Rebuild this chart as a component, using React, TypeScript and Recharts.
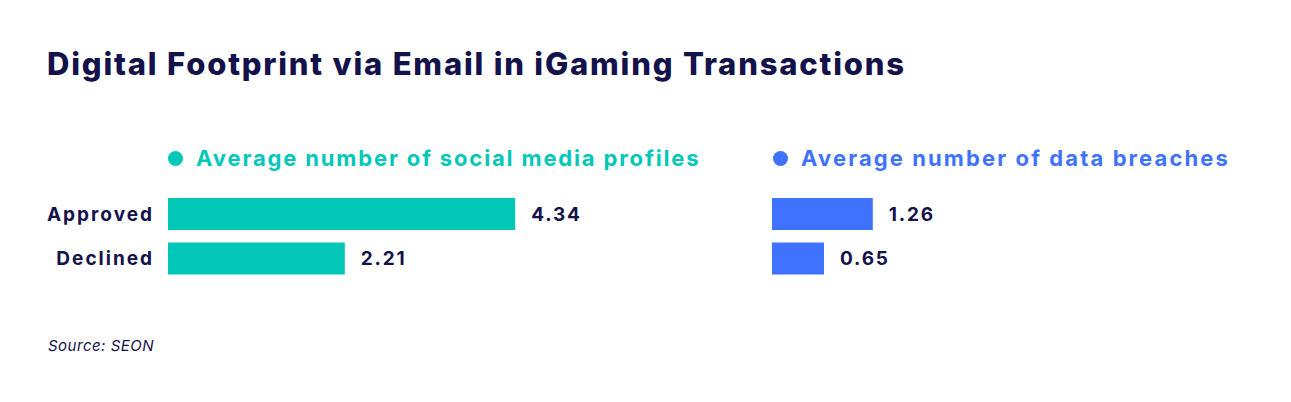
import React from "react";
import { BarChart, Bar, XAxis, YAxis, LabelList } from "recharts";

const categories = ["Approved", "Declined"];
const socialProfiles = [4.34, 2.21];
const dataBreaches = [1.26, 0.65];

const TEAL = "#00C7B8";
const BLUE = "#3F72FF";
const NAVY = "#14124B";
const FONT = "Inter, 'DejaVu Sans', sans-serif";

const socialData = categories.map((c, i) => ({ name: c, value: socialProfiles[i] }));
const breachData = categories.map((c, i) => ({ name: c, value: dataBreaches[i] }));

function LegendItem({ color, label, left, spacing }: { color: string; label: string; left: number; spacing: number }) {
  return (
    <div
      style={{
        position: "absolute",
        left,
        top: 145,
        height: 26,
        display: "flex",
        alignItems: "center",
        fontFamily: FONT,
        whiteSpace: "nowrap",
      }}
    >
      <span
        style={{
          display: "inline-block",
          width: 15,
          height: 15,
          borderRadius: "50%",
          background: color,
          marginRight: 13,
        }}
      />
      <span style={{ color, fontSize: 22, fontWeight: 700, letterSpacing: spacing, lineHeight: "26px" }}>{label}</span>
    </div>
  );
}

const labelStyle = { fill: NAVY, fontSize: 19, fontWeight: 700, fontFamily: FONT, letterSpacing: 1.8 };

export default function App() {
  return (
    <div
      style={{
        position: "absolute",
        left: 0,
        top: 0,
        width: 1291,
        height: 402,
        background: "#fff",
        fontFamily: FONT,
        overflow: "hidden",
      }}
    >
      <div
        style={{
          position: "absolute",
          left: 47,
          top: 44,
          fontSize: 31,
          fontWeight: 800,
          color: NAVY,
          lineHeight: "40px",
          whiteSpace: "nowrap",
          letterSpacing: 1.8,
        }}
      >
        Digital Footprint via Email in iGaming Transactions
      </div>

      <LegendItem color={TEAL} label="Average number of social media profiles" left={168} spacing={1.85} />
      <LegendItem color={BLUE} label="Average number of data breaches" left={773} spacing={2.1} />

      <div style={{ position: "absolute", left: 0, top: 130 }}>
        <BarChart
          width={620}
          height={170}
          data={socialData}
          layout="vertical"
          margin={{ top: 62, right: 52, bottom: 19, left: 0 }}
          barSize={32}
        >
          <XAxis type="number" domain={[0, 5]} hide />
          <YAxis
            type="category"
            dataKey="name"
            width={168}
            axisLine={false}
            tickLine={false}
            tickSize={0}
            tickMargin={14}
            tick={{ fill: NAVY, fontSize: 19, fontWeight: 700, fontFamily: FONT, letterSpacing: 2 }}
          />
          <Bar dataKey="value" fill={TEAL} isAnimationActive={false}>
            <LabelList dataKey="value" position="right" offset={16} style={labelStyle} formatter={(v: number) => v.toFixed(2)} />
          </Bar>
        </BarChart>
      </div>

      <div style={{ position: "absolute", left: 772, top: 130 }}>
        <BarChart
          width={500}
          height={170}
          data={breachData}
          layout="vertical"
          margin={{ top: 62, right: 100, bottom: 19, left: 0 }}
          barSize={32}
        >
          <XAxis type="number" domain={[0, 5]} hide />
          <YAxis type="category" dataKey="name" hide />
          <Bar dataKey="value" fill={BLUE} isAnimationActive={false}>
            <LabelList dataKey="value" position="right" offset={16} style={labelStyle} formatter={(v: number) => v.toFixed(2)} />
          </Bar>
        </BarChart>
      </div>

      <div
        style={{
          position: "absolute",
          left: 48,
          top: 336,
          fontSize: 15,
          fontStyle: "italic",
          color: NAVY,
          lineHeight: "20px",
          letterSpacing: 0.5,
        }}
      >
        Source: SEON
      </div>
    </div>
  );
}
